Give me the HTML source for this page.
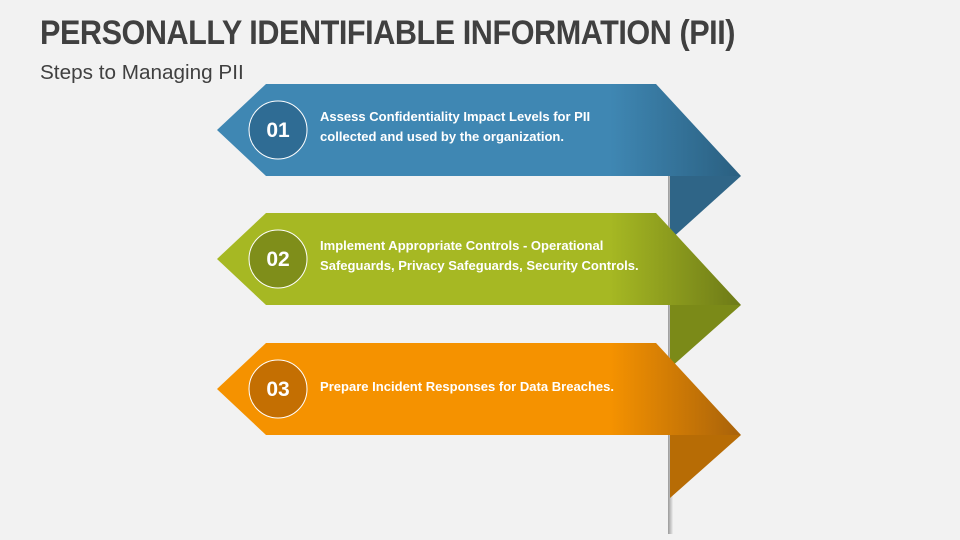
<!DOCTYPE html>
<html><head><style>
body{margin:0;width:960px;height:540px;background:#f2f2f2;overflow:hidden;position:relative;font-family:"Liberation Sans",sans-serif}
h1{position:absolute;left:40px;top:14px;margin:0;font-size:34px;font-weight:bold;color:#404040;letter-spacing:-0.5px;transform:scaleX(0.9);transform-origin:0 0;white-space:nowrap}
.sub{position:absolute;left:40px;top:61px;font-size:20.5px;color:#404040;transform:scaleX(1.01);transform-origin:0 0;white-space:nowrap}
.t{position:absolute;left:320px;color:#fff;font-size:13.3px;font-weight:bold;line-height:20px;transform:scaleX(0.98);transform-origin:0 0;white-space:nowrap}
</style></head><body>
<h1>PERSONALLY IDENTIFIABLE INFORMATION (PII)</h1>
<div class="sub">Steps to Managing PII</div>
<svg width="960" height="540" style="position:absolute;left:0;top:0">
<defs>
<linearGradient id="pole" x1="0" x2="1"><stop offset="0" stop-color="#999"/><stop offset="1" stop-color="#eee"/></linearGradient>
<linearGradient id="g1" x1="0" y1="0" x2="1" y2="0"><stop offset="0.75" stop-color="#3f87b3"/><stop offset="1" stop-color="#2a5f80"/></linearGradient>
<linearGradient id="g2" x1="0" y1="0" x2="1" y2="0"><stop offset="0.75" stop-color="#a6b823"/><stop offset="1" stop-color="#6d7a17"/></linearGradient>
<linearGradient id="g3" x1="0" y1="0" x2="1" y2="0"><stop offset="0.75" stop-color="#f59200"/><stop offset="1" stop-color="#a8620a"/></linearGradient>
</defs>
<rect x="668" y="176" width="5" height="358" fill="url(#pole)"/>
<polygon points="670,176 741,176 670,240" fill="#2f6587"/>
<polygon points="670,305 741,305 670,368" fill="#7b8a18"/>
<polygon points="670,435 741,435 670,498" fill="#b76c05"/>
<polygon points="217,130 266,84 656,84 741,176 266,176" fill="url(#g1)"/>
<polygon points="217,259 266,213 656,213 741,305 266,305" fill="url(#g2)"/>
<polygon points="217,389 266,343 656,343 741,435 266,435" fill="url(#g3)"/>
<g stroke="#fff" stroke-width="1">
<circle cx="278" cy="130" r="29" fill="#2f6c94"/>
<circle cx="278" cy="259" r="29" fill="#7f8e1a"/>
<circle cx="278" cy="389" r="29" fill="#c46f02"/>
</g>
<g fill="#fff" font-family="Liberation Sans" font-weight="bold" font-size="21" text-anchor="middle">
<text x="278" y="137">01</text><text x="278" y="266">02</text><text x="278" y="396">03</text>
</g>
</svg>
<div class="t" style="top:107px">Assess Confidentiality Impact Levels for PII<br>collected and used by the organization.</div>
<div class="t" style="top:236px">Implement Appropriate Controls - Operational<br>Safeguards, Privacy Safeguards, Security Controls.</div>
<div class="t" style="top:377px">Prepare Incident Responses for Data Breaches.</div>
</body></html>
